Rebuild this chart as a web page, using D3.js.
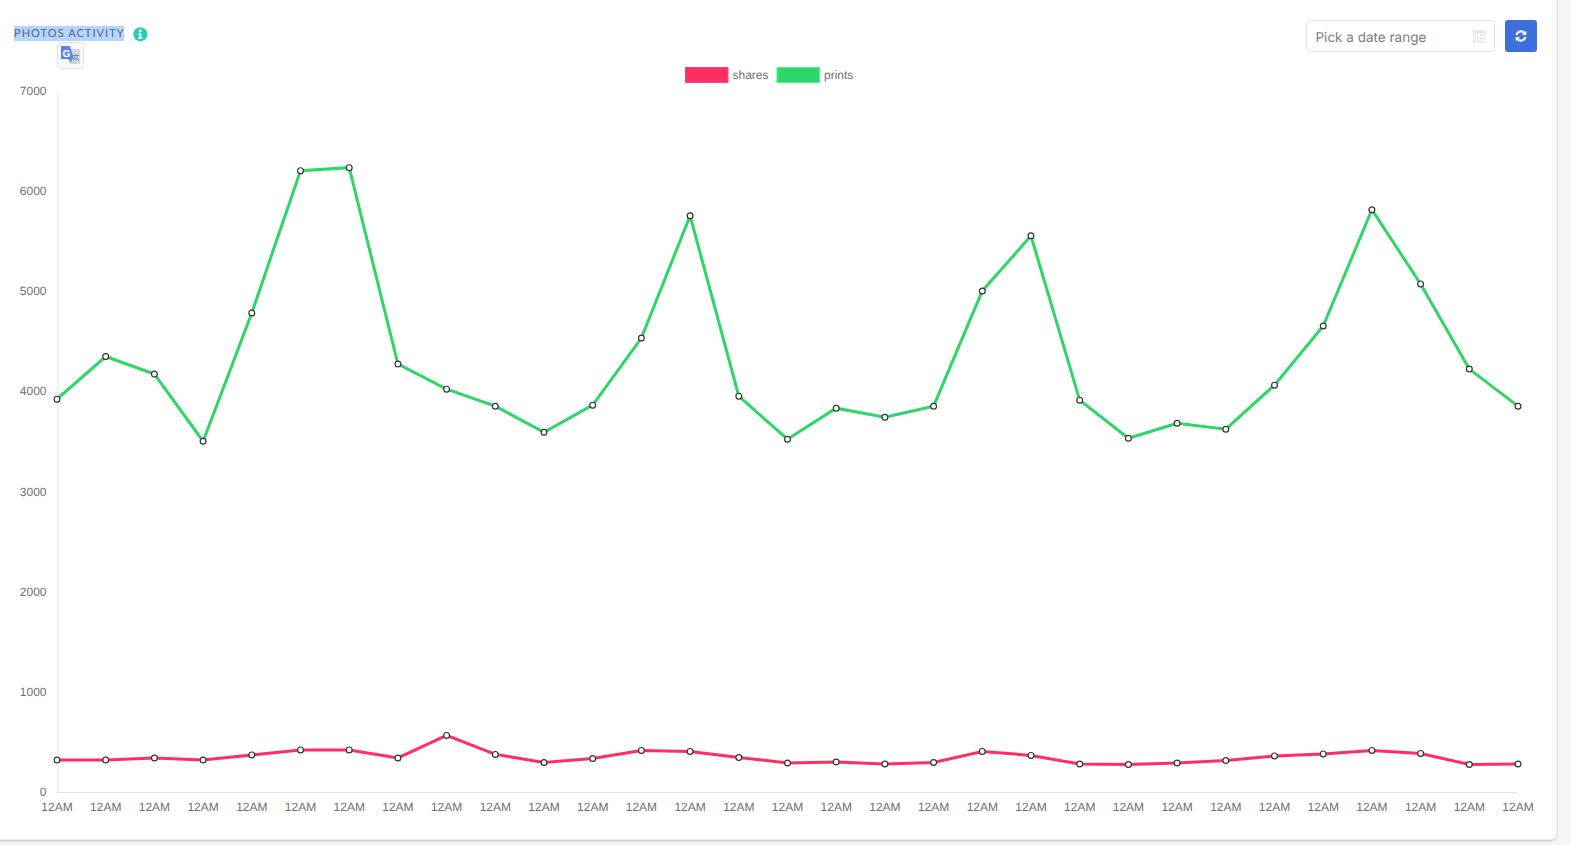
<!DOCTYPE html>
<html>
<head>
<meta charset="utf-8">
<script src="https://cdnjs.cloudflare.com/ajax/libs/d3/7.8.5/d3.min.js"></script>
<style>
html, body { margin: 0; padding: 0; background: #f5f5f5; overflow: hidden; }
svg { display: block; text-rendering: geometricPrecision; }
</style>
</head>
<body>
<script>
var w = 1571,
    h = 845;

var days = d3.range(1, 32);
var tick_label = '12AM';
var y_ticks = [0, 1000, 2000, 3000, 4000, 5000, 6000, 7000];

var shares = [320, 320, 340, 320, 370, 420, 420, 340, 565, 375, 295, 335, 415, 405, 345, 290,
              300, 280, 295, 405, 365, 280, 275, 290, 315, 360, 380, 415, 385, 275, 280];
var prints = [3920, 4345, 4170, 3500, 4780, 6200, 6230, 4270, 4020, 3850, 3590, 3860, 4530, 5750, 3950, 3520,
              3830, 3740, 3850, 5000, 5550, 3910, 3530, 3680, 3620, 4060, 4650, 5810, 5070, 4220, 3850];

var series_names = ['shares', 'prints'];
var series_values = [shares, prints];
var series_colors = ['#ff2d62', '#2ed667'];

var FONT = '"Liberation Sans", Arial, sans-serif';

var svg = d3.select('body')
  .append('svg')
  .attr('width', w)
  .attr('height', h);

// card
var defs = svg.append('defs');
var shadow = defs.append('filter').attr('id', 'card_shadow')
  .attr('x', '-2%').attr('y', '-2%').attr('width', '104%').attr('height', '104%');
shadow.append('feDropShadow')
  .attr('dx', 0).attr('dy', 1).attr('stdDeviation', 1)
  .attr('flood-color', '#000').attr('flood-opacity', 0.3);

svg.append('rect')
  .attr('x', -10).attr('y', -10)
  .attr('width', 1566.5).attr('height', 849.5)
  .attr('rx', 6)
  .attr('fill', '#fff')
  .attr('filter', 'url(#card_shadow)');

// header, left side
svg.append('rect')
  .attr('x', 14).attr('y', 26)
  .attr('width', 110).attr('height', 15)
  .attr('fill', '#b4d5fe');

svg.append('text')
  .attr('x', 14).attr('y', 37)
  .attr('font-family', 'Lato, sans-serif')
  .attr('font-size', 11)
  .attr('letter-spacing', 1.05)
  .attr('fill', '#55637a')
  .text('PHOTOS ACTIVITY');

var info = svg.append('g').attr('transform', 'translate(140.3,34.3)');
info.append('circle').attr('r', 7).attr('fill', '#22d1b2');
info.append('circle').attr('cy', -3.4).attr('r', 1.4).attr('fill', '#fff');
info.append('path').attr('d', 'M-2,-1H1V3H2V4.6H-2V3H-1V.4H-2Z').attr('fill', '#fff');

// translate button
var gt = svg.append('g').attr('transform', 'translate(57,42)');
gt.append('rect')
  .attr('x', .5).attr('y', .5)
  .attr('width', 26).attr('height', 26)
  .attr('rx', 4)
  .attr('fill', '#f8f8f8')
  .attr('stroke', '#e2e2e2');
gt.append('rect')
  .attr('x', 13).attr('y', 7)
  .attr('width', 10).attr('height', 15)
  .attr('fill', '#d5d8d8');
gt.append('path')
  .attr('d', 'M4,4H13L17,17H15L14,21L11,17H4Z')
  .attr('fill', '#5a86ec');
gt.append('text')
  .attr('x', 5.5).attr('y', 14.5)
  .attr('font-family', FONT)
  .attr('font-size', 10)
  .attr('font-weight', 'bold')
  .attr('fill', '#fff')
  .text('G');
gt.append('text')
  .attr('x', 15.5).attr('y', 18)
  .attr('font-family', '"Noto Sans CJK SC", sans-serif')
  .attr('font-size', 7)
  .attr('fill', '#6f7a7a')
  .text('文');

// header, right side
svg.append('rect')
  .attr('x', 1306.5).attr('y', 20.5)
  .attr('width', 188).attr('height', 31)
  .attr('rx', 3)
  .attr('fill', '#fff')
  .attr('stroke', '#dcdfe3');

svg.append('text')
  .attr('x', 1315.5).attr('y', 41.5)
  .attr('font-family', 'Inter, sans-serif')
  .attr('font-size', 13.5)
  .attr('fill', '#7d7d7d')
  .text('Pick a date range');

var cal = svg.append('g').attr('transform', 'translate(1473,29)');
cal.append('rect')
  .attr('y', 1).attr('width', 12.5).attr('height', 13)
  .attr('rx', 1)
  .attr('fill', '#e6e8e9');
cal.selectAll('path.grid')
  .data([3.5, 6.5, 9.5])
  .enter().append('path')
    .attr('d', function(d) { return 'M' + d + ',4V14M0,' + (d + 1.5) + 'H12.5'; })
    .attr('stroke', '#fff')
    .attr('stroke-width', .8);

svg.append('rect')
  .attr('x', 1505).attr('y', 20)
  .attr('width', 32).attr('height', 32)
  .attr('rx', 3)
  .attr('fill', '#3f6fdc');

var refresh = svg.append('g')
  .attr('transform', 'translate(1521,36)')
  .attr('fill', 'none')
  .attr('stroke', '#fff')
  .attr('stroke-width', 2);
refresh.append('path').attr('d', 'M-4.5,-1A4.7,4.7 0 0 1 3.6,-3');
refresh.append('path').attr('d', 'M4.5,1A4.7,4.7 0 0 1 -3.6,3');
refresh.append('path').attr('d', 'M5.3,-5.3V-.9H.9Z').attr('fill', '#fff').attr('stroke', 'none');
refresh.append('path').attr('d', 'M-5.3,5.3V.9H-.9Z').attr('fill', '#fff').attr('stroke', 'none');

// legend
var legend_x = [685, 776.5];
var legend = svg.selectAll('g.legend')
  .data(series_names)
  .enter().append('g')
    .attr('class', 'legend')
    .attr('transform', function(d, i) { return 'translate(' + legend_x[i] + ',67)'; });
legend.append('rect')
  .attr('x', .5).attr('y', .5)
  .attr('width', 42.5).attr('height', 15)
  .attr('fill', function(d, i) { return series_colors[i]; })
  .attr('stroke', function(d, i) { return d3.color(series_colors[i]).brighter(0.8).formatHex(); });
legend.append('text')
  .attr('x', 47.5).attr('y', 12)
  .attr('font-family', FONT)
  .attr('font-size', 12)
  .attr('fill', '#707070')
  .text(function(d) { return d; });

// chart
var x = d3.scalePoint()
  .domain(days)
  .range([57, 1518]);

var y = d3.scaleLinear()
  .domain([0, 7000])
  .range([792, 90.5]);

var x_axis = d3.axisBottom(x)
  .tickSize(0)
  .tickPadding(10.5)
  .tickFormat(function() { return tick_label; });

var y_axis = d3.axisLeft(y)
  .tickValues(y_ticks)
  .tickSize(0)
  .tickPadding(11)
  .tickFormat(d3.format('d'));

function styleAxis(g) {
    g.select('.domain').attr('stroke', '#e4e4e4');
    g.selectAll('text')
      .attr('font-family', FONT)
      .attr('font-size', 12)
      .attr('fill', '#707070');
}

svg.append('g')
  .attr('transform', 'translate(-.5,792)')
  .call(x_axis)
  .call(styleAxis);

svg.append('g')
  .attr('transform', 'translate(57.5,0)')
  .call(y_axis)
  .call(styleAxis);

var line = d3.line()
  .x(function(d, i) { return x(days[i]); })
  .y(function(d) { return y(d); });

series_values.forEach(function(values, s) {
    var g = svg.append('g').attr('class', 'series-' + series_names[s]);
    g.append('path')
      .attr('d', line(values))
      .attr('fill', 'none')
      .attr('stroke', series_colors[s])
      .attr('stroke-width', 3);
    g.selectAll('circle')
      .data(values)
      .enter().append('circle')
        .attr('cx', function(d, i) { return x(days[i]); })
        .attr('cy', function(d) { return y(d); })
        .attr('r', 2.9)
        .attr('fill', '#fff')
        .attr('stroke', '#333')
        .attr('stroke-width', 1.2);
});
</script>
</body>
</html>
